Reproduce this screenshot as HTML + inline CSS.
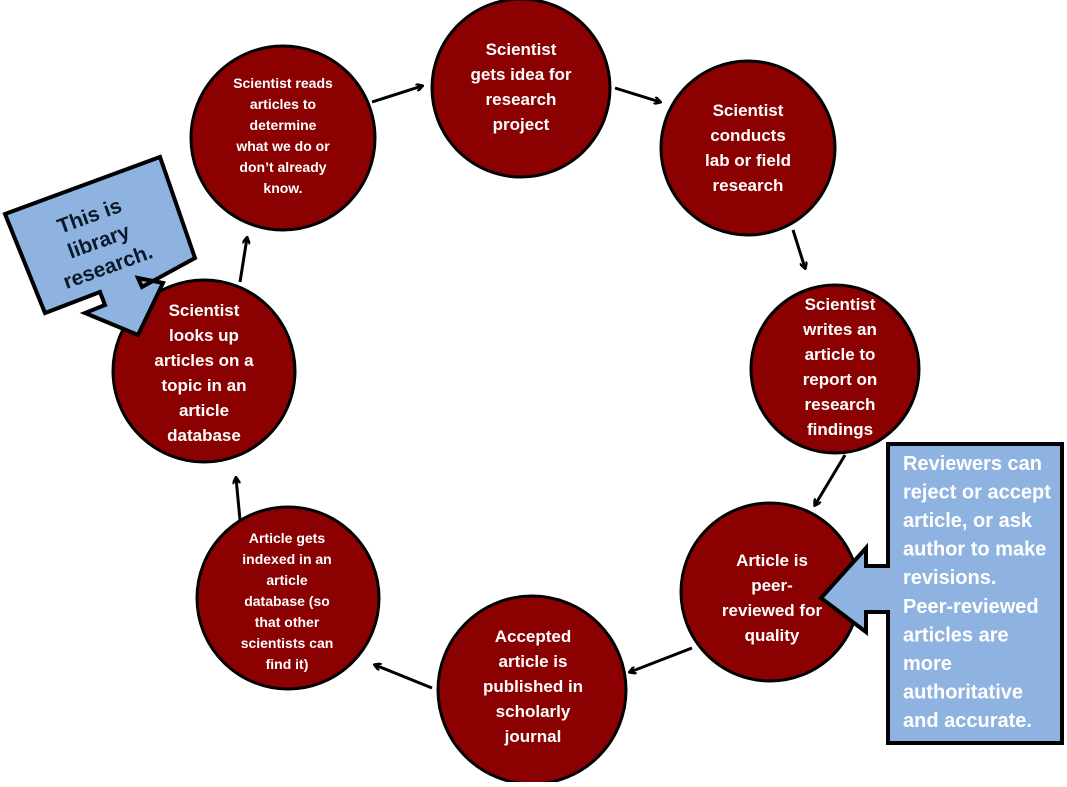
<!DOCTYPE html>
<html><head><style>
body{margin:0;background:#fff;}
svg text{font-family:"Liberation Sans",sans-serif;font-weight:bold;}
</style></head><body>
<svg width="1067" height="782" viewBox="0 0 1067 782" xmlns="http://www.w3.org/2000/svg">
<defs><marker id="a" markerWidth="8" markerHeight="8" refX="6" refY="4" orient="auto" markerUnits="userSpaceOnUse"><path d="M0,0 L7,4 L0,8" fill="none" stroke="#000" stroke-width="2.5"/></marker></defs>
<g fill="#8b0000" stroke="#000" stroke-width="3">
<circle cx="283" cy="138" r="92"/>
<circle cx="521" cy="88" r="89"/>
<circle cx="748" cy="148" r="87"/>
<circle cx="835" cy="369" r="84"/>
<circle cx="770" cy="592" r="89"/>
<circle cx="532" cy="690" r="94"/>
<circle cx="288" cy="598" r="91"/>
<circle cx="204" cy="371" r="91"/>
</g>
<g stroke="#000" stroke-width="3" fill="none" marker-end="url(#a)">
<line x1="372" y1="102" x2="422" y2="86"/>
<line x1="615" y1="88" x2="660" y2="102"/>
<line x1="793" y1="230" x2="805" y2="268"/>
<line x1="845" y1="455" x2="815" y2="505"/>
<line x1="692" y1="648" x2="630" y2="672"/>
<line x1="432" y1="688" x2="375" y2="665"/>
<line x1="240" y1="520" x2="236" y2="478"/>
<line x1="240" y1="282" x2="247" y2="238"/>
</g>
<g fill="#fff" font-size="16" text-anchor="middle">
<text x="283" y="88" font-size="14"><tspan x="283">Scientist reads</tspan><tspan x="283" dy="21">articles to</tspan><tspan x="283" dy="21">determine</tspan><tspan x="283" dy="21">what we do or</tspan><tspan x="283" dy="21">don’t already</tspan><tspan x="283" dy="21">know.</tspan></text>
<text x="521" y="55" font-size="17"><tspan x="521">Scientist</tspan><tspan x="521" dy="25">gets idea for</tspan><tspan x="521" dy="25">research</tspan><tspan x="521" dy="25">project</tspan></text>
<text x="748" y="116" font-size="17"><tspan x="748">Scientist</tspan><tspan x="748" dy="25">conducts</tspan><tspan x="748" dy="25">lab or field</tspan><tspan x="748" dy="25">research</tspan></text>
<text x="840" y="310" font-size="17"><tspan x="840">Scientist</tspan><tspan x="840" dy="25">writes an</tspan><tspan x="840" dy="25">article to</tspan><tspan x="840" dy="25">report on</tspan><tspan x="840" dy="25">research</tspan><tspan x="840" dy="25">findings</tspan></text>
<text x="772" y="566" font-size="17"><tspan x="772">Article is</tspan><tspan x="772" dy="25">peer-</tspan><tspan x="772" dy="25">reviewed for</tspan><tspan x="772" dy="25">quality</tspan></text>
<text x="533" y="642" font-size="17"><tspan x="533">Accepted</tspan><tspan x="533" dy="25">article is</tspan><tspan x="533" dy="25">published in</tspan><tspan x="533" dy="25">scholarly</tspan><tspan x="533" dy="25">journal</tspan></text>
<text x="287" y="543" font-size="14"><tspan x="287">Article gets</tspan><tspan x="287" dy="21">indexed in an</tspan><tspan x="287" dy="21">article</tspan><tspan x="287" dy="21">database (so</tspan><tspan x="287" dy="21">that other</tspan><tspan x="287" dy="21">scientists can</tspan><tspan x="287" dy="21">find it)</tspan></text>
<text x="204" y="316" font-size="17"><tspan x="204">Scientist</tspan><tspan x="204" dy="25">looks up</tspan><tspan x="204" dy="25">articles on a</tspan><tspan x="204" dy="25">topic in an</tspan><tspan x="204" dy="25">article</tspan><tspan x="204" dy="25">database</tspan></text>
</g>
<polygon points="5,214 160,157 195,258 142,287 138,278 163,283 138,335 85,313 105,305 100,292 45,313" fill="#8fb3e0" stroke="#000" stroke-width="4" stroke-linejoin="miter"/>
<g transform="translate(100,245) rotate(-20)" font-size="21" fill="#0a1a2a" text-anchor="middle">
<text x="0" y="-24">This is</text><text x="0" y="3">library</text><text x="0" y="30">research.</text>
</g>
<polygon points="888,444 1062,444 1062,743 888,743 888,612 866,612 866,632 821,598 866,548 866,566 888,566" fill="#8fb3e0" stroke="#000" stroke-width="4"/>
<g font-size="20" fill="#fff">
<text x="903" y="470" font-weight="normal"><tspan x="903">Reviewers can</tspan><tspan x="903" dy="28.5">reject or accept</tspan><tspan x="903" dy="28.5">article, or ask</tspan><tspan x="903" dy="28.5">author to make</tspan><tspan x="903" dy="28.5">revisions.</tspan></text>
<text x="903" y="613"><tspan x="903">Peer-reviewed</tspan><tspan x="903" dy="28.5">articles are</tspan><tspan x="903" dy="28.5">more</tspan><tspan x="903" dy="28.5">authoritative</tspan><tspan x="903" dy="28.5">and accurate.</tspan></text>
</g>
</svg>
</body></html>
